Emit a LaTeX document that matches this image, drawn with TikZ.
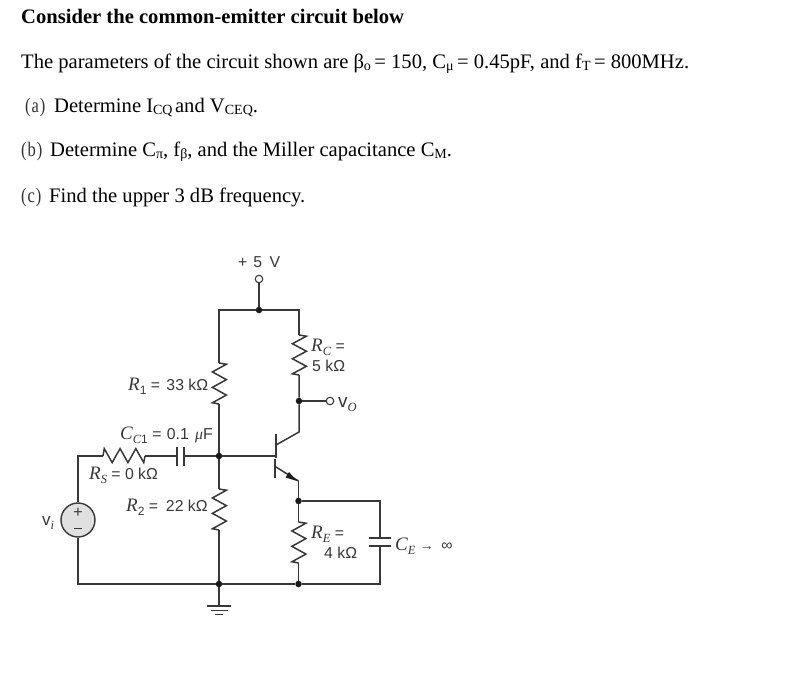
\documentclass[tikz,border=0pt]{standalone}
\usepackage{fontspec}
\setmainfont{Liberation Serif}
\newfontfamily\lab{Liberation Sans}
\newfontfamily\qf[LetterSpace=6]{Liberation Serif}
\usetikzlibrary{calc}
\newcommand\tsub[1]{\raisebox{-2.5pt}{\fontsize{14}{14}\selectfont #1}}
\newcommand\csub[1]{\raisebox{-4pt}{\fontsize{12.5}{12.5}\selectfont\rmfamily\itshape #1}}
\newcommand\nsub[1]{\raisebox{-4pt}{\fontsize{12}{12}\selectfont #1}}
\newcommand\ivar[1]{{\fontsize{19}{19}\selectfont\rmfamily\itshape #1}}
\newcommand\qtag[1]{\scalebox{.8}[1]{#1}}
\newcommand\zp[2]{($(\tikztostart)!#1!(\tikztotarget)!#2!90:(\tikztotarget)$)}
\tikzset{
 wire/.style={line width=1.5pt,draw=black!78},
 res/.style={wire,line join=miter,to path={-- \zp{.03}{7.4pt} -- \zp{.218}{-6.6pt} -- \zp{.406}{7.4pt} -- \zp{.594}{-6.6pt} -- \zp{.782}{7.4pt} -- \zp{.97}{-6.6pt} -- (\tikztotarget)}},
 dotj/.style={circle,fill=black!90,inner sep=0pt,minimum size=6.5pt},
 term/.style={circle,draw=black!78,line width=1.1pt,fill=white,inner sep=0pt,minimum size=7.5pt},
 src/.style={circle,draw=black!78,line width=1.4pt,fill=black!12,inner sep=0pt,minimum size=34pt},
 txt/.style={anchor=base west,inner sep=0pt,text=black,font=\fontsize{20.6}{24}\selectfont},
 ttl/.style={txt,font=\fontsize{20.6}{24}\selectfont\bfseries},
 qlab/.style={txt,text=black!80,font=\fontsize{20.6}{24}\selectfont\qf},
 elab/.style={anchor=base west,inner sep=0pt,text=black!78,font=\fontsize{15.8}{18}\selectfont\lab},
 plate/.style={line width=1.8pt,draw=black!78},
}
\begin{document}
\begin{tikzpicture}[x=1pt,y=-1pt]
\useasboundingbox (0,0) rectangle (804,678);
% text
\node[ttl] (title) at (21,23) {Consider the common-emitter circuit below};
\node[txt] (intro) at (21,68) {The parameters of the circuit shown are β\tsub{o}\,= 150, C\tsub{μ}\,= 0.45pF, and f\tsub{T}\,= 800MHz.};
\node[qlab] (qa) at (25,112) {\qtag{(a)}};
\node[txt] (ta) at (54,112) {Determine I\tsub{CQ}\hspace{2.5pt}and V\tsub{CEQ}.};
\node[qlab] (qb) at (21,156) {\qtag{(b)}};
\node[txt] (tb) at (50,156) {Determine C\tsub{π}, f\tsub{β}, and the Miller capacitance C\tsub{M}.};
\node[qlab] (qc) at (21,202) {\qtag{(c)}};
\node[txt] (tc) at (49,202) {Find the upper 3 dB frequency.};
% coordinates
\node[term] (vcc) at (259,279) {};
\node[dotj] (jtop) at (259,310) {};
\coordinate (tl) at (219,310);
\coordinate (tr) at (299,310);
\coordinate (r1t) at (219,363);
\coordinate (r1b) at (219,404);
\coordinate (rct) at (299,335);
\coordinate (rcb) at (299,375);
\node[dotj] (jo) at (299,401) {};
\node[term] (vo) at (330,401) {};
\coordinate (cc) at (299,432);
\coordinate (cb) at (276,445);
\coordinate (eb) at (276,467);
\coordinate (ee) at (298.5,481);
\node[dotj] (je) at (298.5,501) {};
\coordinate (ret) at (298.5,522);
\coordinate (reb) at (298.5,563);
\node[dotj] (jbr) at (298.5,584) {};
\coordinate (cr1) at (380,501);
\coordinate (cr2) at (380,584);
\coordinate (cp1) at (380,538);
\coordinate (cp2) at (380,546);
\node[dotj] (jb) at (219,456) {};
\coordinate (bb) at (276,456);
\coordinate (rsl) at (103,456);
\coordinate (rsr) at (145,456);
\coordinate (c1l) at (177,456);
\coordinate (c1r) at (184,456);
\coordinate (wl) at (78,456);
\node[src] (vs) at (78,520) {};
\coordinate (bl) at (78,584);
\coordinate (r2t) at (219,489);
\coordinate (r2b) at (219,530);
\node[dotj] (jbl) at (219,584) {};
\coordinate (gnd) at (219,606);
% wires
\draw[wire] (vcc) -- (jtop);
\draw[wire] (r1t) -- (tl) -- (jtop) -- (tr) -- (rct);
\draw[res] (rct) to (rcb);
\draw[wire] (rcb) -- (jo) -- (cc) -- (cb);
\draw[wire] (jo) -- (vo);
\draw[res] (r1t) to (r1b);
\draw[wire] (r1b) -- (jb);
\draw[wire] (jb) -- (r2t);
\draw[res] (r2t) to (r2b);
\draw[wire] (r2b) -- (jbl);
\draw[wire] (jbl) -- (gnd);
\draw[wire] (jb) -- (bb);
\draw[wire] (c1r) -- (jb);
\draw[wire] (rsr) -- (c1l);
\draw[res] (rsl) to (rsr);
\draw[wire] (vs) -- (wl) -- (rsl);
\draw[wire] (vs) -- (bl) -- (jbl) -- (jbr) -- (cr2) -- (cp2);
\draw[wire] (cp1) -- (cr1) -- (je);
\draw[wire] (jbr) -- (reb);
\draw[res] (ret) to (reb);
\draw[wire] (ret) -- (je) -- (ee);
% transistor
\draw[plate] ($(bb)+(0,-22)$) -- ($(bb)+(0,2)$);
\draw[plate] ($(bb)+(-.7,3)$) -- ($(bb)+(-.7,22)$);
\draw[wire] (eb) -- (ee);
\fill[black!88] (297,481) -- (289,472) -- (285.5,477.5) -- cycle;
% capacitors
\draw[plate] ($(c1l)+(0,-9)$) -- ($(c1l)+(0,10)$);
\draw[plate] ($(c1r)+(0,-9)$) -- ($(c1r)+(0,10)$);
\draw[plate] ($(cp1)+(-11,0)$) -- ($(cp1)+(11,0)$);
\draw[plate] ($(cp2)+(-11,0)$) -- ($(cp2)+(11,0)$);
% ground
\draw[plate] ($(gnd)+(-12,0)$) -- ($(gnd)+(12,0)$);
\draw[plate] ($(gnd)+(-8.5,4.5)$) -- ($(gnd)+(8.5,4.5)$);
\draw[plate] ($(gnd)+(-4,8.5)$) -- ($(gnd)+(4,8.5)$);
% source marks
\node[elab,anchor=center,font=\fontsize{16}{16}\selectfont\lab] (plus) at (78,513) {+};
\draw[wire,line width=1pt] (74,528) -- (82,528);
% labels
\node[elab] (l5v) at (238,267) {+\hspace{6pt}5\hspace{3pt} V};
\node[elab] (lr1) at (128,390) {\ivar{R}\nsub{1} = \hspace{2pt}33 kΩ};
\node[elab] (lcc) at (120,439) {\ivar{C}\csub{C}\nsub{1} =\hspace{1pt} 0.1\hspace{2pt} {\rmfamily\itshape μ}F};
\node[elab] (lrs) at (89,479) {\ivar{R}\csub{S} = 0 kΩ};
\node[elab] (lr2) at (126,511) {\ivar{R}\nsub{2} =\hspace{3.5pt} 22 kΩ};
\node[elab] (lrc) at (311,351) {\ivar{R}\csub{C} =};
\node[elab] (lrc2) at (312,371) {5 kΩ};
\node[elab,font=\fontsize{19}{19}\selectfont\lab] (lvo) at (338,407) {v\csub{O}};
\node[elab,font=\fontsize{17}{17}\selectfont\lab] (lvi) at (42,525) {v\csub{i}};
\node[elab] (lre) at (311,538) {\ivar{R}\csub{E} =};
\node[elab] (lre2) at (324,558) {4 kΩ};
\node[elab] (lce) at (395,550) {\ivar{C}\csub{E} {\fontsize{14}{14}\selectfont →} \hspace{3pt}∞};
\end{tikzpicture}
\end{document}
